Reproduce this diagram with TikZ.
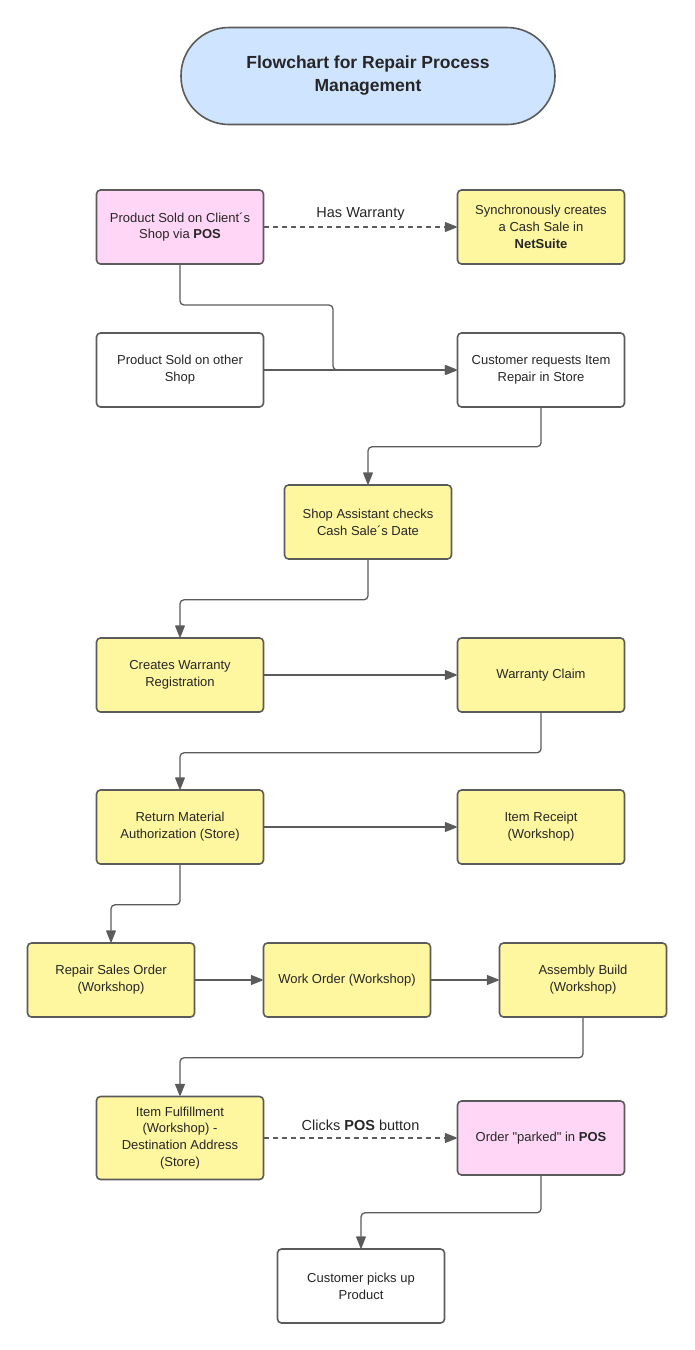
\documentclass[tikz,border=0pt]{standalone}
\usepackage{fontspec}
\setmainfont{Liberation Sans}
\usetikzlibrary{arrows.meta}
\definecolor{boxline}{HTML}{5B5B5B}
\definecolor{pinkfill}{HTML}{FFD6F6}
\definecolor{yellowfill}{HTML}{FFF6A0}
\definecolor{bluefill}{HTML}{CFE4FF}

\begin{document}
\begin{tikzpicture}[x = 1pt, y = -1pt,
    box/.style = {draw = boxline, line width = 1.6pt, rounded corners = 4pt,
        minimum width = 167pt, minimum height = 74pt,
        align = center, font = \fontsize{13}{16.8}\selectfont, text = black!85},
    pinkbox/.style = {box, fill = pinkfill},
    yellowbox/.style = {box, fill = yellowfill},
    whitebox/.style = {box, fill = white},
    arr/.style = {draw = boxline, line width = 1.3pt, rounded corners = 4pt,
        -{Triangle[length = 13pt, width = 10pt, round = false]}},
    dasharr/.style = {arr, dash pattern = on 5pt off 4pt},
    lbl/.style = {font = \fontsize{14.5}{17}\selectfont, text = black!85}]
    \useasboundingbox (0, 0) rectangle (694, 1350);

    % title
    \node (title) at (368, 76) [draw = boxline, line width = 1.6pt, fill = bluefill,
        rounded corners = 48pt, minimum width = 374pt, minimum height = 97pt,
        align = center, font = \fontsize{17.5}{23}\selectfont\bfseries, text = black!85]
        {Flowchart for Repair Process\\Management};

    % boxes
    \node (sold) at (180, 227) [pinkbox] {Product Sold on Client\textasciiacute s\\Shop via \textbf{POS}};
    \node (cash) at (541, 227) [yellowbox] {Synchronously creates\\a Cash Sale in\\\textbf{NetSuite}};
    \node (other) at (180, 370) [whitebox] {Product Sold on other\\Shop};
    \node (request) at (541, 370) [whitebox] {Customer requests Item\\Repair in Store};
    \node (check) at (368, 522) [yellowbox] {Shop Assistant checks\\Cash Sale\textasciiacute s Date};
    \node (register) at (180, 675) [yellowbox] {Creates Warranty\\Registration};
    \node (claim) at (541, 675) [yellowbox] {Warranty Claim};
    \node (rma) at (180, 827) [yellowbox] {Return Material\\Authorization (Store)};
    \node (receipt) at (541, 827) [yellowbox] {Item Receipt\\(Workshop)};
    \node (rso) at (111, 980) [yellowbox] {Repair Sales Order\\(Workshop)};
    \node (work) at (347, 980) [yellowbox] {Work Order (Workshop)};
    \node (build) at (583, 980) [yellowbox] {Assembly Build\\(Workshop)};
    \node (fulfil) at (180, 1138) [yellowbox, minimum height = 83pt] {Item Fulfillment\\(Workshop) -\\Destination Address\\(Store)};
    \node (parked) at (541, 1138) [pinkbox] {Order \textquotedbl parked\textquotedbl{} in \textbf{POS}};
    \node (pickup) at (361, 1286) [whitebox] {Customer picks up\\Product};

    % connectors
    \draw[dasharr] (sold) -- (cash) node[midway, above = 3pt, lbl] {Has Warranty};
    \draw[arr] (sold.south) |- (333, 305) |- (request.west);
    \draw[arr] (other) -- (request);
    \draw[arr] (request.south) -- ++(0, 39) -| (check.north);
    \draw[arr] (check.south) -- ++(0, 40) -| (register.north);
    \draw[arr] (register) -- (claim);
    \draw[arr] (claim.south) -- ++(0, 40) -| (rma.north);
    \draw[arr] (rma) -- (receipt);
    \draw[arr] (rma.south) -- ++(0, 40) -| (rso.north);
    \draw[arr] (rso) -- (work);
    \draw[arr] (work) -- (build);
    \draw[arr] (build.south) -- ++(0, 40) -| (fulfil.north);
    \draw[dasharr] (fulfil) -- (parked) node[midway, above = 3pt, lbl] {Clicks \textbf{POS} button};
    \draw[arr] (parked.south) -- ++(0, 37) -| (pickup.north);
\end{tikzpicture}
\end{document}
